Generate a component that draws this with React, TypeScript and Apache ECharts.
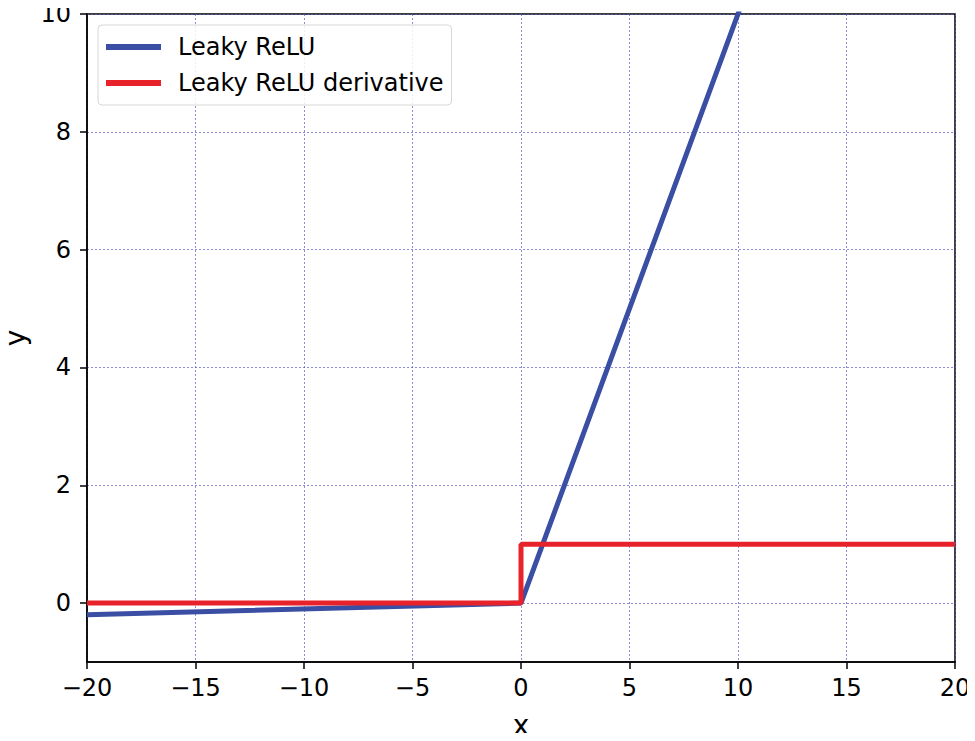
import React, { useEffect, useRef } from 'react'
import * as echarts from 'echarts'

// Leaky ReLU: slope 0.01 for x < 0, slope 1 for x >= 0 (clipped by the y-axis max)
const leakyX = [-20, 0, 20]
const leakyY = [-0.2, 0, 20]

// derivative: step from 0 to 1 at x = 0
const derivX = [-20, 0, 0, 20]
const derivY = [0, 0, 1, 1]

const xTicks = [-20, -15, -10, -5, 0, 5, 10, 15, 20]
const yTicks = [0, 2, 4, 6, 8, 10]

const FONT = 'DejaVu Sans'

const App = () => {
    const chartRef = useRef<HTMLDivElement>(null)

    useEffect(() => {
        if (!chartRef.current) return
        const chart = echarts.init(chartRef.current, null, { renderer: 'svg' })

        const gridLine = { show: true, lineStyle: { color: 'rgba(90,90,200,0.7)', type: [2, 2], width: 1 } }

        chart.setOption({
            animation: false,
            grid: {
                left: 87,
                right: 20,
                top: 14,
                bottom: 79,
                outerBoundsMode: 'none',
                containLabel: false,
                show: true,
                borderColor: '#000',
                borderWidth: 1.5,
                backgroundColor: '#fff',
            },
            legend: {
                orient: 'vertical',
                left: 98,
                top: 25,
                padding: [10, 8, 10, 8],
                itemGap: 12,
                itemWidth: 55,
                itemHeight: 6,
                icon: 'rect',
                borderColor: '#d6d6d6',
                borderWidth: 1,
                borderRadius: 4,
                backgroundColor: 'rgba(255,255,255,0.85)',
                textStyle: { fontFamily: FONT, fontSize: 24, color: '#000', padding: [0, 0, 0, 12] },
                data: ['Leaky ReLU', 'Leaky ReLU derivative'],
            },
            xAxis: {
                type: 'value',
                min: xTicks[0],
                max: xTicks[xTicks.length - 1],
                interval: 5,
                name: 'x',
                nameLocation: 'middle',
                nameGap: 63,
                nameTextStyle: { fontFamily: FONT, fontSize: 28, color: '#000', verticalAlign: 'middle', lineHeight: 28 },
                axisLine: { onZero: false, lineStyle: { color: '#000', width: 1.5 } },
                axisTick: { show: true, length: 7, lineStyle: { color: '#000', width: 1.5 } },
                axisLabel: {
                    fontFamily: FONT,
                    fontSize: 24,
                    color: '#000',
                    margin: 14,
                    formatter: (v: number) => String(v).replace('-', '\u2212'),
                },
                splitLine: gridLine,
            },
            yAxis: {
                type: 'value',
                min: -1,
                max: 10,
                name: 'y',
                nameLocation: 'middle',
                nameGap: 70,
                nameRotate: 90,
                nameTextStyle: { fontFamily: FONT, fontSize: 28, color: '#000', verticalAlign: 'middle', lineHeight: 28 },
                axisLine: { show: true, onZero: false, lineStyle: { color: '#000', width: 1.5 } },
                axisTick: { show: true, length: 7, customValues: yTicks, lineStyle: { color: '#000', width: 1.5 } },
                axisLabel: {
                    fontFamily: FONT,
                    fontSize: 24,
                    color: '#000',
                    margin: 16,
                    customValues: yTicks,
                },
                splitLine: gridLine,
            },
            series: [
                {
                    name: 'Leaky ReLU',
                    type: 'line',
                    data: leakyX.map((x, i) => [x, leakyY[i]]),
                    showSymbol: false,
                    symbol: 'none',
                    clip: true,
                    color: '#3a4ea3',
                    lineStyle: { color: '#3a4ea3', width: 5 },
                },
                {
                    name: 'Leaky ReLU derivative',
                    type: 'line',
                    data: derivX.map((x, i) => [x, derivY[i]]),
                    showSymbol: false,
                    symbol: 'none',
                    clip: true,
                    color: '#e8222a',
                    lineStyle: { color: '#e8222a', width: 5 },
                },
            ],
        })

        return () => {
            chart.dispose()
        }
    }, [])

    return <div ref={chartRef} style={{ width: 975, height: 741, margin: -8 }} />
}

export default App
